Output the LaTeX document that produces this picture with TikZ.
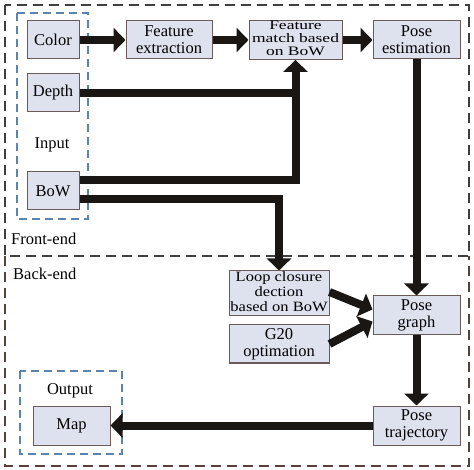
\documentclass[tikz,border=0pt]{standalone}
\usepackage{fontspec}
\setmainfont{Liberation Serif}
\usetikzlibrary{arrows.meta,calc}
\definecolor{boxfill}{HTML}{DEE2EE}
\definecolor{boxborder}{HTML}{6B5A58}
\definecolor{inblue}{HTML}{5B84B1}
\definecolor{frontgray}{HTML}{3F3F3F}
\definecolor{backbrown}{HTML}{5A4038}
\definecolor{arrowblack}{HTML}{1A1614}
\newcommand{\squeezed}[2]{\scalebox{1}[#1]{\begin{tabular}{@{}c@{}}#2\end{tabular}}}
\begin{document}
\begin{tikzpicture}[x=1pt,y=-1pt,
  font=\fontsize{16.5pt}{17pt}\selectfont,
  stagebox/.style={draw=boxborder,fill=boxfill,line width=1pt,align=center,inner sep=0pt},
  conn/.style={draw=arrowblack,line width=8pt,line join=miter,
    -{Triangle[length=12pt,width=24pt]}},
  plainconn/.style={draw=arrowblack,line width=8pt,line join=miter},
  groupblue/.style={draw=inblue,line width=1.5pt,dash pattern=on 8pt off 5pt},
  frontline/.style={draw=frontgray,line width=2pt,dash pattern=on 10pt off 6pt},
  backline/.style={draw=backbrown,line width=2pt,dash pattern=on 10pt off 6pt},
  lbl/.style={inner sep=0pt}
]
\useasboundingbox (0,0) rectangle (474,470);
% outer stages
\draw[backline] (5,256) -- (5,466) -- (469,466) -- (469,256);
\draw[frontline] (5,5) rectangle (469,256);
\node[lbl,anchor=west] (frontlbl) at (11,239) {Front-end};
\node[lbl,anchor=west] (backlbl) at (13,274) {Back-end};
% input group
\draw[groupblue] (17,13) rectangle (88,219);
\node[lbl] (inputlbl) at (52,145) {Input};
% output group
\draw[groupblue] (20,371) rectangle (122,454);
\node[lbl] (outputlbl) at (70,391) {Output};
% nodes
\node[stagebox,minimum width=52pt,minimum height=38pt] (color) at (53,40) {Color};
\node[stagebox,minimum width=52pt,minimum height=38pt] (depth) at (53,93) {Depth};
\node[stagebox,minimum width=52pt,minimum height=38pt] (bow) at (53,191) {BoW};
\node[stagebox,minimum width=86pt,minimum height=38pt] (fe) at (169,40) {Feature\\extraction};
\node[stagebox,minimum width=93pt,minimum height=38pt,font=\fontsize{17.5pt}{17.5pt}\selectfont] (fm) at (295.5,40) {\raisebox{-2pt}{\squeezed{0.74}{Feature\\match based\\on BoW}}};
\node[stagebox,minimum width=87pt,minimum height=38pt] (pe) at (416.5,40) {Pose\\estimation};
\node[stagebox,minimum width=100pt,minimum height=45pt] (lc) at (279,293.5) {\squeezed{0.86}{Loop closure\\dection\\based on BoW}};
\node[stagebox,minimum width=100pt,minimum height=38pt] (g2o) at (279,344) {G20\\optimation};
\node[stagebox,minimum width=87pt,minimum height=39pt] (pg) at (416.5,315.5) {Pose\\graph};
\node[stagebox,minimum width=87pt,minimum height=39pt] (pt) at (416.5,425.5) {Pose\\trajectory};
\node[stagebox,minimum width=77pt,minimum height=39pt] (map) at (71.5,425.5) {Map};
% connectors
\draw[conn] (color) -- (fe);
\draw[conn] (fe) -- (fm);
\draw[conn] (fm) -- (pe);
\draw[plainconn] (depth.east) -- (fm.south |- depth.east);
\draw[conn] (bow.east |- 0,180) -| (fm.south);
\draw[conn] (bow.east |- 0,199) -| (lc.north);
\draw[conn] (pe) -- (pg);
\draw[conn] (lc.east |- 0,292) -- ($(pg.west)+(0,-6)$);
\draw[conn] (g2o.east) -- ($(pg.west)+(0,6)$);
\draw[conn] (pg) -- (pt);
\draw[conn] (pt) -- (map);
\end{tikzpicture}
\end{document}
